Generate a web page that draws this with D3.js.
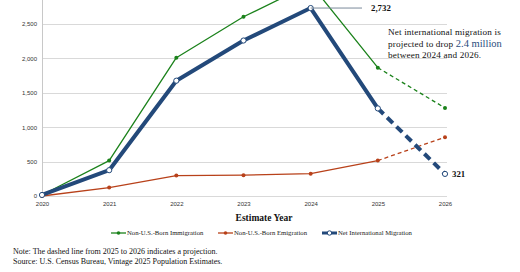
<!DOCTYPE html>
<meta charset="utf-8">
<html>
<head>
<style>
  html, body { margin: 0; padding: 0; background: #fff; }
  svg { display: block; font-family: "Liberation Serif", "DejaVu Serif", serif; }
  .grid line { stroke: #d9d9d9; stroke-width: 1; }
  .tick text { fill: #333; font-size: 6px; }
</style>
</head>
<body>
<svg width="520" height="272"></svg>
<script src="https://cdn.jsdelivr.net/npm/d3@7"></script>
<script>
var years = [2020, 2021, 2022, 2023, 2024, 2025, 2026];
var immigration = [15, 515, 2010, 2605, 3080, 1865, 1280];
var emigration = [0, 122, 297, 302, 325, 515, 855];
var netMigration = [15, 375, 1676, 2260, 2732, 1273, 321];
var yTicks = [0, 500, 1000, 1500, 2000, 2500];

var series = [
  { name: 'Non-U.S.-Born Immigration', values: immigration, color: '#1b821b', width: 1.3, r: 2, fill: true },
  { name: 'Non-U.S.-Born Emigration', values: emigration, color: '#b8411a', width: 1.3, r: 2, fill: true },
  { name: 'Net International Migration', values: netMigration, color: '#23497a', width: 4, r: 2.6, fill: false }
];

var svg = d3.select('svg');

var x = d3.scalePoint().domain(years).range([42, 445]);
var y = d3.scaleLinear().domain([0, 2500]).range([196, 24]);

svg.append('defs').append('clipPath').attr('id', 'plot')
  .append('rect').attr('x', 0).attr('y', 0).attr('width', 520).attr('height', 272);

// grid
svg.append('g').attr('class', 'grid')
  .selectAll('line')
  .data(yTicks)
  .enter().append('line')
    .attr('x1', 42).attr('x2', 447)
    .attr('y1', function (d) { return Math.round(y(d)) + 0.5; })
    .attr('y2', function (d) { return Math.round(y(d)) + 0.5; });

svg.append('line')
  .attr('x1', 42.5).attr('x2', 42.5).attr('y1', 0).attr('y2', 196)
  .attr('stroke', '#c8c8c8');

var yAxis = d3.axisLeft(y).tickValues(yTicks).tickSize(0).tickPadding(5)
  .tickFormat(d3.format(','));
svg.append('g').attr('transform', 'translate(42,0)').call(yAxis)
  .call(function (g) { g.select('.domain').remove(); });

var xAxis = d3.axisBottom(x).tickSize(0).tickPadding(5).tickFormat(d3.format('d'));
svg.append('g').attr('transform', 'translate(0,197)').call(xAxis)
  .call(function (g) { g.select('.domain').remove(); });

svg.append('text')
  .attr('x', 264).attr('y', 221)
  .attr('text-anchor', 'middle')
  .attr('font-size', 9.5).attr('font-weight', 'bold').attr('fill', '#111')
  .text('Estimate Year');

// lines, solid up to 2025 and dashed for the projection
var line = d3.line()
  .x(function (d) { return x(d.year); })
  .y(function (d) { return y(d.value); });

var lines = svg.append('g').attr('clip-path', 'url(#plot)');

series.forEach(function (s) {
  var pts = years.map(function (yr, i) { return { year: yr, value: s.values[i] }; });
  lines.append('path')
    .attr('d', line(pts.slice(0, 6)))
    .attr('fill', 'none')
    .attr('stroke', s.color)
    .attr('stroke-width', s.width)
    .attr('stroke-linejoin', 'round');
  lines.append('path')
    .attr('d', line(pts.slice(5)))
    .attr('fill', 'none')
    .attr('stroke', s.color)
    .attr('stroke-width', s.width)
    .attr('stroke-dasharray', s.fill ? '4,3' : '8,5');
});

svg.append('line')
  .attr('x1', x(2024)).attr('x2', 362)
  .attr('y1', y(2732)).attr('y2', y(2732))
  .attr('stroke', '#7a8a9a').attr('stroke-width', 1);

series.forEach(function (s) {
  lines.selectAll(null)
    .data(s.values)
    .enter().append('circle')
      .attr('cx', function (d, i) { return x(years[i]); })
      .attr('cy', function (d) { return y(d); })
      .attr('r', s.r)
      .attr('fill', s.fill ? s.color : '#fff')
      .attr('stroke', s.color)
      .attr('stroke-width', s.fill ? 0 : 1);
});

svg.append('text')
  .attr('x', 371).attr('y', y(2732) + 3)
  .attr('font-size', 8.8).attr('font-weight', 'bold').attr('fill', '#111')
  .text('2,732');

svg.append('text')
  .attr('x', 452).attr('y', y(321) + 3)
  .attr('font-size', 8.8).attr('font-weight', 'bold').attr('fill', '#111')
  .text('321');

var note = svg.append('text')
  .attr('font-size', 9.2).attr('letter-spacing', 0.15).attr('fill', '#111');
note.append('tspan').attr('x', 388).attr('y', 35).text('Net international migration is');
var l2 = note.append('tspan').attr('x', 388).attr('y', 47);
l2.append('tspan').text('projected to drop ');
l2.append('tspan').attr('font-size', 10.5).attr('letter-spacing', 0).attr('fill', '#2b4c7e').text('2.4 million');
note.append('tspan').attr('x', 388).attr('y', 58).text('between 2024 and 2026.');

// legend
var legendX = [111, 218, 322];
var legend = svg.append('g');
series.forEach(function (s, i) {
  var g = legend.append('g').attr('transform', 'translate(' + legendX[i] + ',233)');
  g.append('line').attr('x1', 0).attr('x2', 15).attr('y1', 0).attr('y2', 0)
    .attr('stroke', s.color).attr('stroke-width', s.fill ? 1.3 : 3);
  g.append('circle').attr('cx', 7.5).attr('cy', 0).attr('r', s.fill ? 1.8 : 2.2)
    .attr('fill', s.fill ? s.color : '#fff').attr('stroke', s.color)
    .attr('stroke-width', s.fill ? 0 : 1);
  g.append('text').attr('x', 16).attr('y', 2.2)
    .attr('font-size', 6.7).attr('fill', '#222')
    .text(s.name);
});

svg.append('text')
  .attr('x', 13).attr('y', 254)
  .attr('font-size', 8).attr('fill', '#111')
  .text('Note: The dashed line from 2025 to 2026 indicates a projection.');
svg.append('text')
  .attr('x', 13).attr('y', 264)
  .attr('font-size', 8).attr('fill', '#111')
  .text('Source: U.S. Census Bureau, Vintage 2025 Population Estimates.');
</script>
</body>
</html>
